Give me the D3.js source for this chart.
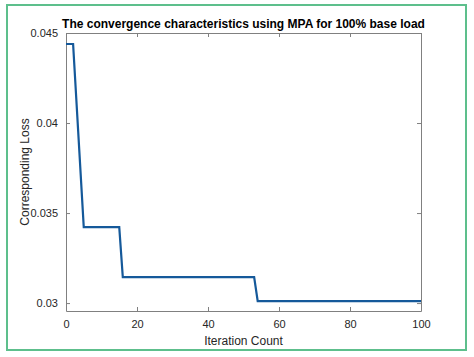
<!DOCTYPE html>
<html><head><meta charset="utf-8">
<script src="https://cdn.jsdelivr.net/npm/d3@7"></script>
<style>body{margin:0;background:#fff;}svg{display:block;font-family:"Liberation Sans",Arial,sans-serif;}</style>
</head><body>
<script>
const titleText = "The convergence characteristics using MPA for 100% base load";
const xLabel = "Iteration Count";
const yLabel = "Corresponding Loss";
const iterations = [0, 2, 5, 15, 16, 53, 54, 100];
const lossValues = [0.04439, 0.04439, 0.03422, 0.03422, 0.03144, 0.03144, 0.03011, 0.03011];
const xTicks = [0, 20, 40, 60, 80, 100];
const yTicks = [0.03, 0.035, 0.04, 0.045];

const W = 474, H = 357;
const m = {left: 66, right: 53, top: 33, bottom: 46};
const svg = d3.select("body").append("svg").attr("width", W).attr("height", H);
svg.append("rect").attr("x", 7).attr("y", 5).attr("width", 459).attr("height", 345)
  .attr("fill", "#fff").attr("stroke", "#5dbf8c").attr("stroke-width", 2);

const x = d3.scaleLinear().domain([0, 100]).range([m.left, W - m.right]);
const y = d3.scaleLinear().domain([0.02956, 0.045]).range([H - m.bottom, m.top]);

const axColor = "#808080", txtColor = "#262626";
function style(g) {
  g.select(".domain").attr("stroke", axColor);
  g.selectAll(".tick line").attr("stroke", axColor);
  g.selectAll(".tick text").attr("fill", txtColor).style("font-size", "11px");
}
svg.append("g").attr("transform", `translate(0,${H - m.bottom})`)
  .call(d3.axisBottom(x).tickValues(xTicks).tickSizeInner(-4).tickSizeOuter(0).tickPadding(9).tickFormat(d3.format("d")))
  .call(style);
svg.append("g").attr("transform", `translate(0,${m.top})`)
  .call(d3.axisTop(x).tickValues(xTicks).tickSizeInner(-4).tickSizeOuter(0).tickFormat(""))
  .call(style);
svg.append("g").attr("transform", `translate(${m.left},0)`)
  .call(d3.axisLeft(y).tickValues(yTicks).tickSizeInner(-4).tickSizeOuter(0).tickPadding(8).tickFormat(d => d3.format("")(+d.toFixed(3))))
  .call(style);
svg.append("g").attr("transform", `translate(${W - m.right},0)`)
  .call(d3.axisRight(y).tickValues(yTicks).tickSizeInner(-4).tickSizeOuter(0).tickFormat(""))
  .call(style);

const data = iterations.map((it, i) => ({it, v: lossValues[i]}));
svg.append("path").datum(data)
  .attr("fill", "none").attr("stroke", "#15599a").attr("stroke-width", 2.2)
  .attr("stroke-linejoin", "miter")
  .attr("d", d3.line().x(d => x(d.it)).y(d => y(d.v)));

svg.append("text").attr("x", (m.left + W - m.right) / 2).attr("y", 28)
  .attr("text-anchor", "middle").attr("font-weight", "bold").attr("font-size", "12px").attr("fill", "#000")
  .text(titleText);
svg.append("text").attr("x", (m.left + W - m.right) / 2).attr("y", 345)
  .attr("text-anchor", "middle").attr("font-size", "12px").attr("fill", txtColor).text(xLabel);
svg.append("text").attr("transform", `translate(29,${(m.top + H - m.bottom) / 2}) rotate(-90)`)
  .attr("text-anchor", "middle").attr("font-size", "12px").attr("fill", txtColor).text(yLabel);
</script>
</body></html>
